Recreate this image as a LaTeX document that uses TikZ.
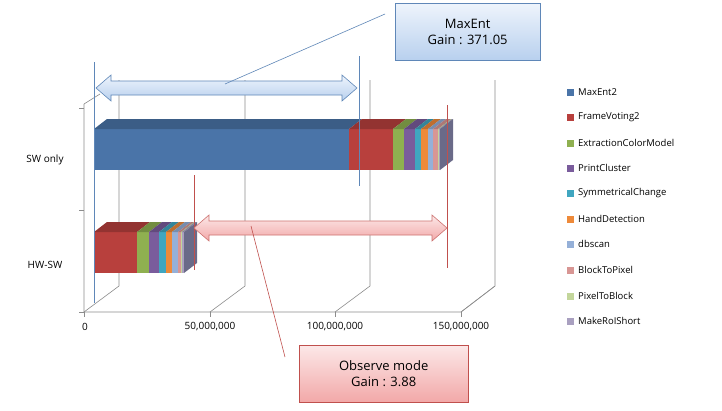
\documentclass[tikz,border=0pt]{standalone}
\usepackage{fontspec}
\setmainfont{Open Sans}
\begin{document}
\begin{tikzpicture}[x=1pt,y=-1pt,
  grid/.style={draw=black!45,line width=0.6pt},
  lbl/.style={font=\fontsize{10}{12}\selectfont,inner sep=0pt},
  leg/.style={font=\fontsize{9.5}{11}\selectfont,anchor=west,inner sep=0pt},
  box/.style={font=\fontsize{13}{15.5}\selectfont,align=center,draw,minimum width=#1}]
\definecolor{cA}{HTML}{4A74A8}\definecolor{cB}{HTML}{B8403D}
\definecolor{cC}{HTML}{8FB050}\definecolor{cD}{HTML}{7A5C9C}
\definecolor{cE}{HTML}{40A6C0}\definecolor{cF}{HTML}{EE8A3A}
\definecolor{cG}{HTML}{95B0D8}\definecolor{cH}{HTML}{D89694}
\definecolor{cI}{HTML}{C3D69B}\definecolor{cJ}{HTML}{A9A0C0}
\definecolor{sideC}{HTML}{6A6A88}
\definecolor{bTop}{HTML}{EEF4FC}\definecolor{bBot}{HTML}{B8D0EE}\definecolor{bLine}{HTML}{5F87B8}
\definecolor{rTop}{HTML}{FCE8E8}\definecolor{rBot}{HTML}{F2A8A8}\definecolor{rLine}{HTML}{C0504D}
\useasboundingbox (0,0) rectangle (722,410);
\fill[white] (0,0) rectangle (722,410);
% walls and grid
\draw[grid] (84,104) -- (84,312) -- (461,312) -- (495,286);
\draw[grid] (84,104) -- (100,94);
\foreach \y in {108,210,312} \draw[grid] (79,\y) -- (84,\y);
\foreach \a/\b in {119/84,245/210,370/335,495/461}{
  \draw[grid] (\a,80) -- (\a,286) -- (\b,312);
  \draw[grid] (\b,312) -- (\b,317);}
\node[lbl] (t0) at (85,327) {0};
\node[lbl] (t1) at (210,327) {50,000,000};
\node[lbl] (t2) at (335,327) {100,000,000};
\node[lbl] (t3) at (461,327) {150,000,000};
\node[lbl] (ysw) at (45,160) {SW only};
\node[lbl] (yhw) at (45,265) {HW-SW};
% bars
\newcommand\seg[5]{%
  \fill[#5] (#1,#3) rectangle (#2,#4);
  \fill[#5!80!black] (#1,#3) -- (#1+13,#3-10) -- (#2+13,#3-10) -- (#2,#3) -- cycle;}
\foreach \a/\b/\c in {94/349/cA,349/393/cB,393/404/cC,404/415/cD,415/421/cE,421/428/cF,428/433/cG,433/438/cH,438/439/cI,439/440/cJ}
  {\seg{\a}{\b}{129}{170}{\c}}
\fill[sideC] (440,129) -- (453,119) -- (453,160) -- (440,170) -- cycle;
\foreach \a/\b/\c in {94/137/cB,137/149/cC,149/159/cD,159/166/cE,166/172/cF,172/178/cG,178/181/cH,181/182/cI,182/184/cJ}
  {\seg{\a}{\b}{232}{273}{\c}}
\fill[sideC] (184,232) -- (197,222) -- (197,263) -- (184,273) -- cycle;
% marker lines
\draw[bLine,line width=0.7pt] (94,62) -- (94,303);
\draw[bLine,line width=0.7pt] (359,56) -- (359,186);
\draw[rLine,line width=0.6pt] (194,175) -- (194,270);
\draw[rLine,line width=0.6pt] (447,105) -- (447,268);
% double arrows
\newcommand\darrow[6]{% x1 x2 yc top draw bottom
  \path[top color=#4,bottom color=#6,draw=#5,line width=0.6pt]
   (#1,#3) -- (#1+15,#3-13) -- (#1+15,#3-7) -- (#2-15,#3-7) -- (#2-15,#3-13) -- (#2,#3)
   -- (#2-15,#3+13) -- (#2-15,#3+7) -- (#1+15,#3+7) -- (#1+15,#3+13) -- cycle;}
\darrow{96}{357}{88}{bTop}{bLine}{bBot}
\darrow{194}{447}{228}{rTop}{rLine!80}{rBot}
\coordinate (pa) at (225,84);
\coordinate (pb) at (251,226);
% callouts
\node[box=145pt,minimum height=57pt,draw=bLine,top color=bTop,bottom color=bBot,anchor=north west] (maxent) at (395,3) {MaxEnt\\Gain : 371.05};
\node[box=169pt,minimum height=57pt,draw=rLine,top color=rTop,bottom color=rBot,anchor=north west] (obs) at (299,345) {Observe mode\\Gain : 3.88};
\draw[bLine,line width=0.6pt] (385,14) -- (pa);
\draw[rLine,line width=0.6pt] (285,357) -- (pb);
% legend
\foreach \c/\t/\y in {cA/MaxEnt2/92,cB/FrameVoting2/117,cC/ExtractionColorModel/143,cD/PrintCluster/168,cE/SymmetricalChange/193,cF/HandDetection/219,cG/dbscan/244,cH/BlockToPixel/270,cI/PixelToBlock/296,cJ/MakeRoIShort/321}{
  \fill[\c] (567,\y-3.5) rectangle (574,\y+3.5);
  \node[leg] (l\t) at (578,\y) {\t};}
\end{tikzpicture}
\end{document}
